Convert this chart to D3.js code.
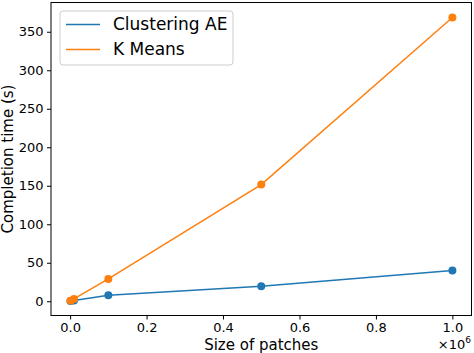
<!DOCTYPE html>
<html>
<head>
<meta charset="utf-8">
<script src="https://cdn.jsdelivr.net/npm/d3@7"></script>
<style>
  body { margin: 0; background: #fff; }
  text { font-family: "DejaVu Sans", sans-serif; fill: #000; }
</style>
</head>
<body>
<svg id="chart" width="474" height="353"></svg>
<script>
// patch counts in units of 1e6
var sizes = [0.001, 0.01, 0.1, 0.5, 1.0];
var clusteringAE = [0.3, 1.0, 7.8, 19.4, 39.8];
var kMeans = [0.5, 3.0, 29.0, 151.5, 368.5];
var xTicks = [0.0, 0.2, 0.4, 0.6, 0.8, 1.0];
var yTicks = [0, 50, 100, 150, 200, 250, 300, 350];

var series = [
  {name: 'Clustering AE', color: '#1f77b4', values: clusteringAE},
  {name: 'K Means', color: '#ff7f0e', values: kMeans}
];

var svg = d3.select('#chart');
var plot = {left: 51, right: 471.5, top: 2.5, bottom: 315.5};

var x = d3.scaleLinear().domain([-0.05, 1.05]).range([plot.left, plot.right]);
var y = d3.scaleLinear().domain([-18.5, 388]).range([plot.bottom, plot.top]);

// axes
var xAxis = svg.append('g')
  .attr('transform', 'translate(0,' + plot.bottom + ')')
  .call(d3.axisBottom(x).tickValues(xTicks).tickFormat(d3.format('.1f')).tickSize(4).tickPadding(3.5));
var yAxis = svg.append('g')
  .attr('transform', 'translate(' + plot.left + ',0)')
  .call(d3.axisLeft(y).tickValues(yTicks).tickSize(4).tickPadding(3.5));

[xAxis, yAxis].forEach(function(g) {
  g.select('.domain').remove();
  g.selectAll('.tick line').attr('stroke', '#000').attr('stroke-width', 1);
  g.selectAll('.tick text').style('font-size', '13px').style('font-family', '"DejaVu Sans", sans-serif');
});

// frame
svg.append('rect')
  .attr('x', plot.left).attr('y', plot.top)
  .attr('width', plot.right - plot.left).attr('height', plot.bottom - plot.top)
  .attr('fill', 'none').attr('stroke', '#000').attr('stroke-width', 1);

var line = d3.line()
  .x(function(d, i) { return x(sizes[i]); })
  .y(function(d) { return y(d); });

series.forEach(function(s) {
  svg.append('path')
    .datum(s.values)
    .attr('d', line)
    .attr('fill', 'none')
    .attr('stroke', s.color)
    .attr('stroke-width', 1.5);
  svg.append('g').selectAll('circle')
    .data(s.values)
    .join('circle')
    .attr('cx', function(d, i) { return x(sizes[i]); })
    .attr('cy', function(d) { return y(d); })
    .attr('r', 4)
    .attr('fill', s.color);
});

// axis labels
svg.append('text')
  .attr('x', (plot.left + plot.right) / 2).attr('y', 350)
  .attr('text-anchor', 'middle')
  .style('font-size', '15px')
  .text('Size of patches');

svg.append('text')
  .attr('transform', 'translate(13,' + ((plot.top + plot.bottom) / 2) + ') rotate(-90)')
  .attr('text-anchor', 'middle')
  .style('font-size', '15px')
  .text('Completion time (s)');

// offset text
var offset = svg.append('text')
  .attr('x', 471).attr('y', 348.5)
  .attr('text-anchor', 'end')
  .style('font-size', '13px');
offset.append('tspan').text('×10');
offset.append('tspan').attr('dy', -6).style('font-size', '9px').text('6');

// legend
var legend = svg.append('g');
legend.append('rect')
  .attr('x', 60).attr('y', 11)
  .attr('width', 173).attr('height', 54)
  .attr('rx', 3)
  .attr('fill', '#fff').attr('fill-opacity', 0.8)
  .attr('stroke', '#ccc').attr('stroke-width', 1);

series.forEach(function(s, i) {
  var ly = 24.5 + i * 25;
  legend.append('line')
    .attr('x1', 66).attr('x2', 100)
    .attr('y1', ly).attr('y2', ly)
    .attr('stroke', s.color).attr('stroke-width', 1.5);
  legend.append('text')
    .attr('x', 113).attr('y', ly)
    .attr('dy', '0.35em')
    .style('font-size', '17px')
    .text(s.name);
});
</script>
</body>
</html>
